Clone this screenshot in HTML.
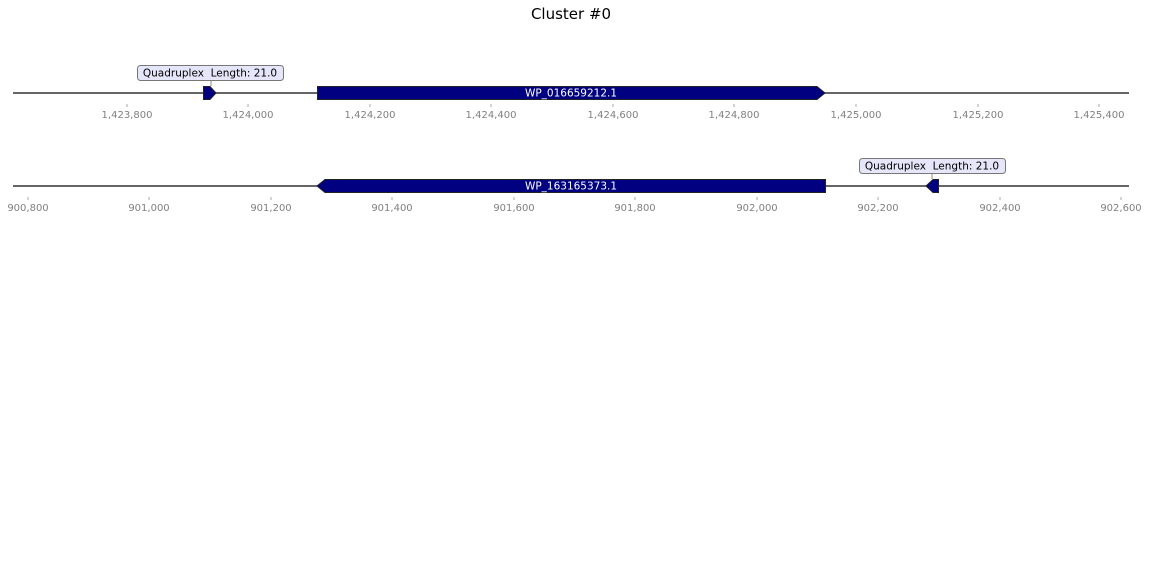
<!DOCTYPE html>
<html><head><meta charset="utf-8"><style>
html,body{margin:0;padding:0;background:#fff;}
svg{display:block;font-family:"DejaVu Sans","Liberation Sans",sans-serif;}
.t{font-size:10px;fill:#808080;text-anchor:middle;}
.k{stroke:#aaa;stroke-width:1;}
.q{white-space:pre;}
</style></head><body>
<svg width="1149" height="576" viewBox="0 0 1149 576">
<text x="571" y="19" font-size="15" text-anchor="middle" fill="#000">Cluster #0</text>
<!-- track 1 -->
<line x1="13" y1="93" x2="1129" y2="93" stroke="#333" stroke-width="1.5"/>
<polygon points="203.5,86.5 210,86.5 216,93 210,99.5 203.5,99.5" fill="#000080" stroke="#222" stroke-width="1"/>
<polygon points="317.5,86.5 817,86.5 825,93 817,99.5 317.5,99.5" fill="#000080" stroke="#222" stroke-width="1"/>
<text x="571" y="96.5" font-size="10.5" fill="#fff" text-anchor="middle">WP_016659212.1</text>
<line x1="211" y1="80" x2="211" y2="86" stroke="#888"/>
<rect x="137.5" y="65.5" width="146" height="15" rx="3" fill="#e6e6fa" stroke="#777"/>
<text class="q" xml:space="preserve" x="210" y="76.5" font-size="10.5" fill="#000" text-anchor="middle">Quadruplex  Length: 21.0</text>
<g class="k">
<line x1="127" y1="104" x2="127" y2="107"/><line x1="248" y1="104" x2="248" y2="107"/><line x1="370" y1="104" x2="370" y2="107"/><line x1="491" y1="104" x2="491" y2="107"/><line x1="613" y1="104" x2="613" y2="107"/><line x1="734" y1="104" x2="734" y2="107"/><line x1="856" y1="104" x2="856" y2="107"/><line x1="978" y1="104" x2="978" y2="107"/><line x1="1099" y1="104" x2="1099" y2="107"/>
</g>
<text class="t" x="127" y="118">1,423,800</text><text class="t" x="248" y="118">1,424,000</text><text class="t" x="370" y="118">1,424,200</text><text class="t" x="491" y="118">1,424,400</text><text class="t" x="613" y="118">1,424,600</text><text class="t" x="734" y="118">1,424,800</text><text class="t" x="856" y="118">1,425,000</text><text class="t" x="978" y="118">1,425,200</text><text class="t" x="1099" y="118">1,425,400</text>
<!-- track 2 -->
<line x1="13" y1="186" x2="1129" y2="186" stroke="#333" stroke-width="1.5"/>
<polygon points="825.5,179.5 325,179.5 317,186 325,192.5 825.5,192.5" fill="#000080" stroke="#222" stroke-width="1"/>
<text x="571" y="189.5" font-size="10.5" fill="#fff" text-anchor="middle">WP_163165373.1</text>
<polygon points="938.5,179.5 933,179.5 926,186 933,192.5 938.5,192.5" fill="#000080" stroke="#222" stroke-width="1"/>
<line x1="932" y1="173" x2="932" y2="179" stroke="#888"/>
<rect x="859.5" y="158.5" width="146" height="15" rx="3" fill="#e6e6fa" stroke="#777"/>
<text class="q" xml:space="preserve" x="932" y="169.5" font-size="10.5" fill="#000" text-anchor="middle">Quadruplex  Length: 21.0</text>
<g class="k">
<line x1="28" y1="197" x2="28" y2="200"/><line x1="149" y1="197" x2="149" y2="200"/><line x1="271" y1="197" x2="271" y2="200"/><line x1="392" y1="197" x2="392" y2="200"/><line x1="514" y1="197" x2="514" y2="200"/><line x1="635" y1="197" x2="635" y2="200"/><line x1="757" y1="197" x2="757" y2="200"/><line x1="878" y1="197" x2="878" y2="200"/><line x1="1000" y1="197" x2="1000" y2="200"/><line x1="1121" y1="197" x2="1121" y2="200"/>
</g>
<text class="t" x="28" y="211">900,800</text><text class="t" x="149" y="211">901,000</text><text class="t" x="271" y="211">901,200</text><text class="t" x="392" y="211">901,400</text><text class="t" x="514" y="211">901,600</text><text class="t" x="635" y="211">901,800</text><text class="t" x="757" y="211">902,000</text><text class="t" x="878" y="211">902,200</text><text class="t" x="1000" y="211">902,400</text><text class="t" x="1121" y="211">902,600</text>
</svg>
</body></html>
